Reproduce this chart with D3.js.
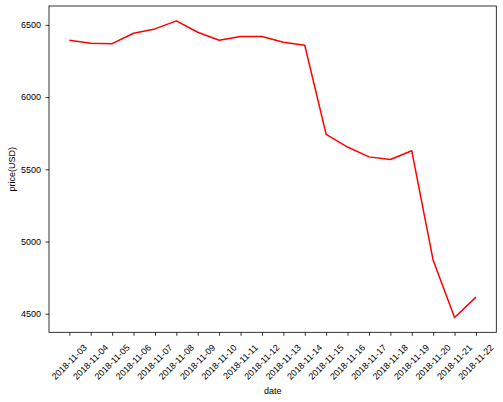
<!DOCTYPE html>
<html><head><meta charset="utf-8">
<script src="https://cdn.jsdelivr.net/npm/d3@7"></script>
<style>body{margin:0;background:#fff}svg{display:block}text{font-family:"Liberation Sans",Arial,Helvetica,sans-serif}</style>
</head><body>
<svg id="c" width="503" height="402"></svg>
<script>
const dates = ["2018-11-03","2018-11-04","2018-11-05","2018-11-06","2018-11-07","2018-11-08","2018-11-09","2018-11-10","2018-11-11","2018-11-12","2018-11-13","2018-11-14","2018-11-15","2018-11-16","2018-11-17","2018-11-18","2018-11-19","2018-11-20","2018-11-21","2018-11-22"];
const prices = [6394,6373,6370,6442,6472,6528,6449,6394,6419,6419,6380,6359,5742,5654,5586,5568,5628,4870,4474,4615];
const yTicks = [4500,5000,5500,6000,6500];

const svg = d3.select("#c");
const L = 49, R = 496.3, T = 6, B = 332.3;
const n = dates.length;
const xPad = (n-1)*0.05;
const x = d3.scaleLinear().domain([-xPad, n-1+xPad]).range([L, R]);
const ymin = d3.min(prices), ymax = d3.max(prices), yp = (ymax-ymin)*0.05;
const y = d3.scaleLinear().domain([ymin-yp, ymax+yp]).range([B, T]);

const fs = 9;
// y axis
const yAxis = d3.axisLeft(y).tickValues(yTicks).tickSize(3.5).tickPadding(4.5).tickFormat(d3.format("d"));
const gy = svg.append("g").attr("transform",`translate(${L},0)`).call(yAxis);
gy.select(".domain").remove();
gy.selectAll("line").attr("stroke","#000").attr("stroke-width",0.8);
gy.selectAll("text").attr("font-size",fs).attr("fill","#000").attr("font-family",null);

// x axis ticks
const xAxis = d3.axisBottom(x).tickValues(d3.range(n)).tickSize(3.5).tickFormat("");
const gx = svg.append("g").attr("transform",`translate(0,${B})`).call(xAxis);
gx.select(".domain").remove();
gx.selectAll("line").attr("stroke","#000").attr("stroke-width",0.8);
gx.selectAll("text").remove();
// rotated labels
const lab = svg.append("g");
dates.forEach((d,i)=>{
  const t = lab.append("text").attr("font-size",fs).attr("fill","#000")
    .attr("text-anchor","middle").attr("dominant-baseline","central").text(d);
  const len = t.node().getComputedTextLength();
  const h = fs*1.2;
  const half = (len+h)/(2*Math.SQRT2);
  const cx = x(i), cy = B + 10 + half;
  t.attr("x",cx).attr("y",cy).attr("transform",`rotate(-45,${cx},${cy})`);
});

// line
svg.append("path").datum(prices)
  .attr("fill","none").attr("stroke","#ff0000").attr("stroke-width",1.5)
  .attr("stroke-linejoin","round")
  .attr("d", d3.line().x((d,i)=>x(i)).y(d=>y(d)));

// frame
svg.append("rect").attr("x",L).attr("y",T).attr("width",R-L).attr("height",B-T)
  .attr("fill","none").attr("stroke","#000").attr("stroke-width",0.8);

// axis labels
svg.append("text").attr("x",(L+R)/2).attr("y",394).attr("text-anchor","middle")
  .attr("font-size",fs).attr("fill","#000").text("date");
svg.append("text").attr("transform",`translate(15,${(T+B)/2}) rotate(-90)`).attr("text-anchor","middle")
  .attr("font-size",fs).attr("fill","#000").text("price(USD)");
</script>
</body></html>
